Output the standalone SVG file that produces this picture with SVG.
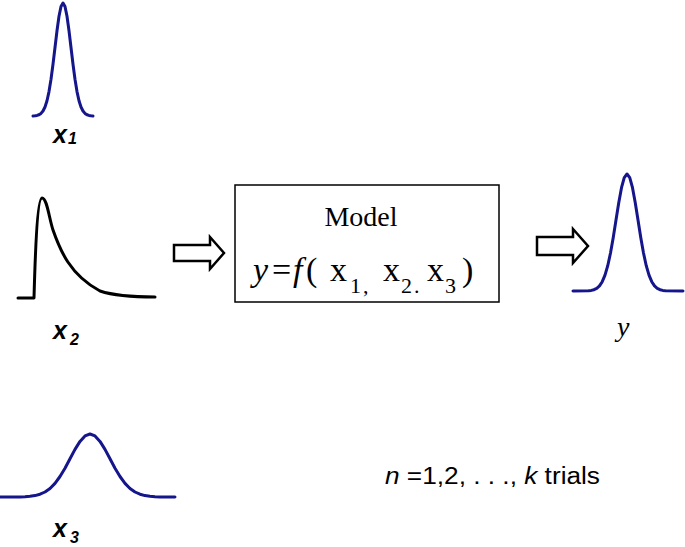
<svg xmlns="http://www.w3.org/2000/svg" width="685" height="547" viewBox="0 0 685 547">
<style>
.blue{fill:none;stroke:#15158c;stroke-width:3;stroke-linejoin:round;stroke-linecap:round}
.blk{fill:none;stroke:#000;stroke-width:3;stroke-linejoin:round;stroke-linecap:round}
.arr{fill:#fff;stroke:#000;stroke-width:2.5;stroke-linejoin:miter}
.lab{font-family:"Liberation Sans",Arial,sans-serif;font-weight:bold;font-style:italic;fill:#000}
.ser{font-family:"Liberation Serif","Times New Roman",serif;fill:#000}
.sub{font-size:22px}
</style>
<rect width="685" height="547" fill="#fff"/>
<g id="x1">
<polyline class="blue" points="33,116 35,115.75 37,115.4 39,114.75 41,113.4 43,111 45,107 47,100.7 49,91.6 51,79.3 53,64.3 55,47.5 57,30.7 59,16.3 61,6.5 63,3 65,6.5 67,16.3 69,30.7 71,47.5 73,64.3 75,79.3 77,91.6 79,100.7 81,107 83,111 85,113.4 87,114.75 89,115.4 91,115.75 93,116"/>
<text class="lab" x="53" y="143" font-size="25">x<tspan font-size="16" dx="1" dy="1">1</tspan></text>
</g>
<g id="x2">
<path class="blk" d="M18,298 L34,298 C35,262 37,198 42,198 C47,198 49,218 53,230 C60,250 70,275 100,291 C118,297 140,297 155,297"/>
<text class="lab" x="53" y="339" font-size="25">x<tspan font-size="16" dx="3" dy="6">2</tspan></text>
</g>
<g id="x3">
<polyline class="blue" points="0,497 17,497 20,496.9 25,496.7 30,496.3 35,495.6 40,494.2 45,492 50,488.5 55,483.4 60,476.5 65,468.2 70,458.8 75,449.4 80,441.4 85,435.9 90,434 95,435.9 100,441.4 105,449.4 110,458.8 115,468.2 120,476.5 125,483.4 130,488.5 135,492 140,494.2 145,495.6 150,496.3 155,496.7 160,496.9 175,497"/>
<text class="lab" x="53" y="537" font-size="25">x<tspan font-size="16" dx="3" dy="6">3</tspan></text>
</g>
<g id="model">
<rect x="235" y="185" width="264" height="117" fill="#fff" stroke="#000" stroke-width="1.5"/>
<text class="ser" x="361" y="226" font-size="28" text-anchor="middle">Model</text>
<text class="ser" font-size="34" y="281"><tspan x="253" font-style="italic">y</tspan><tspan x="272">=</tspan><tspan x="293" font-style="italic">f</tspan><tspan x="306">(</tspan><tspan x="330">x</tspan><tspan class="sub" x="350" y="293">1</tspan><tspan class="sub" x="363" y="293">,</tspan><tspan x="383" y="281">x</tspan><tspan class="sub" x="401" y="293">2</tspan><tspan class="sub" x="414" y="293">.</tspan><tspan x="427" y="281">x</tspan><tspan class="sub" x="445" y="293">3</tspan><tspan x="462" y="281">)</tspan></text>
</g>
<g id="y">
<polyline class="blue" points="573,291 588.5,290.7 591.25,290.4 594,289.7 596.75,288.3 599.5,285.9 602.25,281.7 605,275.2 607.75,265.7 610.5,253 613.25,237.4 616,220 618.75,202.7 621.5,187.7 624.25,177.6 627,174 629.75,177.6 632.5,187.7 635.25,202.7 638,220 640.75,237.4 643.5,253 646.25,265.7 649,275.2 651.75,281.7 654.5,285.9 657.25,288.3 660,289.7 662.75,290.4 665.5,290.7 683,291"/>
<text class="ser" x="617" y="336" font-size="28" font-style="italic">y</text>
</g>
<g id="connectors">
<polygon class="arr" points="174,245 210,245 210,237 224,253 210,269 210,261 174,261"/>
<polygon class="arr" points="537,237 573,237 573,229 588,246 573,263 573,255 537,255"/>
</g>
<g id="note">
<text x="385" y="484" font-size="23" font-family="'Liberation Sans',Arial,sans-serif" textLength="215" lengthAdjust="spacingAndGlyphs"><tspan font-style="italic">n</tspan> =1,2, . . ., <tspan font-style="italic">k</tspan> trials</text>
</g>
</svg>
